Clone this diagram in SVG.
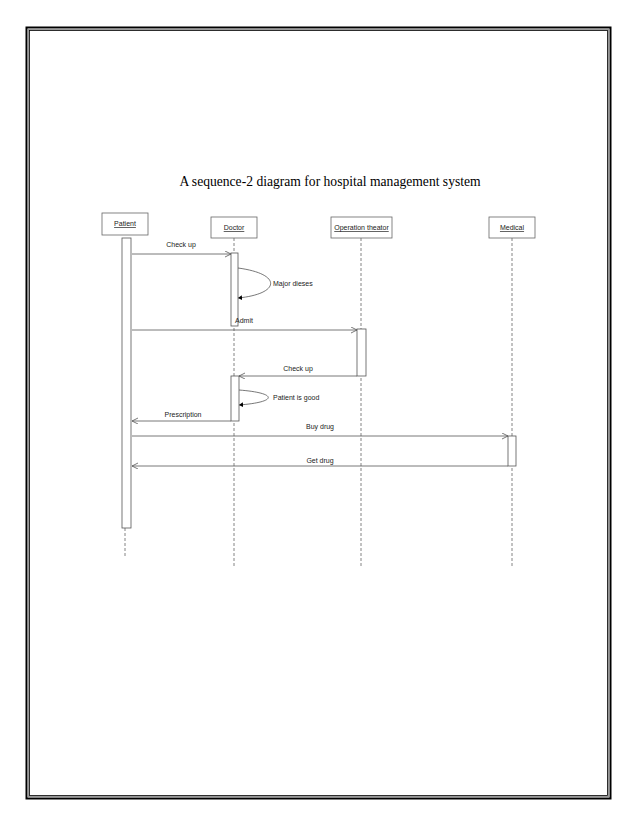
<svg xmlns="http://www.w3.org/2000/svg" width="638" height="826" viewBox="0 0 638 826">
<style>
.lbl{font-family:"Liberation Sans",Arial,sans-serif;font-size:7px;fill:#222}
.name{font-family:"Liberation Sans",Arial,sans-serif;font-size:7px;fill:#222;text-decoration:underline}
.box{fill:#fff;stroke:#666;stroke-width:0.8}
.act{fill:#fff;stroke:#555;stroke-width:0.8}
.life{stroke:#666;stroke-width:0.8;stroke-dasharray:3,2;fill:none}
.msg{stroke:#555;stroke-width:0.8;fill:none}
</style>
<defs>
<marker id="open" markerWidth="8" markerHeight="8" refX="6" refY="3" orient="auto" markerUnits="userSpaceOnUse">
<path d="M0,0 L6,3 L0,6" fill="none" stroke="#555" stroke-width="0.8"/>
</marker>
<marker id="fill" markerWidth="8" markerHeight="8" refX="4" refY="2.5" orient="auto" markerUnits="userSpaceOnUse">
<path d="M0,0 L4,2.5 L0,5 Z" fill="#000"/>
</marker>
</defs>
<rect x="0" y="0" width="638" height="826" fill="#fff"/>
<g id="page-border">
<rect x="26.5" y="27.5" width="584" height="771" fill="none" stroke="#000" stroke-width="2"/>
<rect x="28.5" y="29.5" width="580" height="767" fill="none" stroke="#999" stroke-width="1.5"/>
<rect x="29.5" y="30.5" width="578" height="765" fill="none" stroke="#000" stroke-width="0.8"/>
</g>
<text x="330" y="186" text-anchor="middle" font-family="Liberation Serif,'Times New Roman',serif" font-size="13.6" fill="#000">A sequence-2 diagram for hospital management system</text>
<g id="connectors">
<line class="life" x1="125" y1="528" x2="125" y2="558"/>
<line class="life" x1="234" y1="238" x2="234" y2="567"/>
<line class="life" x1="361" y1="238" x2="361" y2="567"/>
<line class="life" x1="512" y1="238" x2="512" y2="567"/>
<line class="msg" x1="132" y1="254" x2="231" y2="254" marker-end="url(#open)"/>
<path class="msg" d="M238,268 C283,274 280,294 238,298" marker-end="url(#fill)"/>
<line class="msg" x1="132" y1="330" x2="357" y2="330" marker-end="url(#open)"/>
<line class="msg" x1="357" y1="376" x2="239" y2="376" marker-end="url(#open)"/>
<path class="msg" d="M239,390 C278,393 278,402 239,405" marker-end="url(#fill)"/>
<line class="msg" x1="231" y1="421" x2="132" y2="421" marker-end="url(#open)"/>
<line class="msg" x1="132" y1="436" x2="508" y2="436" marker-end="url(#open)"/>
<line class="msg" x1="508" y1="466" x2="132" y2="466" marker-end="url(#open)"/>
</g>
<g id="patient">
<rect class="box" x="102" y="213" width="46" height="22"/>
<text class="name" x="125" y="226" text-anchor="middle">Patient</text>
<rect class="act" x="122" y="238" width="9" height="290"/>
</g>
<g id="doctor">
<rect class="box" x="211" y="217" width="46" height="21"/>
<text class="name" x="234" y="230" text-anchor="middle">Doctor</text>
<rect class="act" x="231" y="253" width="7" height="73"/>
<rect class="act" x="231" y="376" width="8" height="45"/>
</g>
<g id="operation-theator">
<rect class="box" x="331" y="217" width="61" height="21"/>
<text class="name" x="361.5" y="230" text-anchor="middle">Operation theator</text>
<rect class="act" x="357" y="329" width="9" height="47"/>
</g>
<g id="medical">
<rect class="box" x="489" y="217" width="46" height="21"/>
<text class="name" x="512" y="230" text-anchor="middle">Medical</text>
<rect class="act" x="508" y="436" width="8" height="30"/>
</g>
<g id="labels">
<text class="lbl" x="181" y="247" text-anchor="middle">Check up</text>
<text class="lbl" x="273" y="286">Major dieses</text>
<text class="lbl" x="235" y="323">Admit</text>
<text class="lbl" x="298" y="371" text-anchor="middle">Check up</text>
<text class="lbl" x="273" y="400">Patient is good</text>
<text class="lbl" x="183" y="417" text-anchor="middle">Prescription</text>
<text class="lbl" x="320" y="429" text-anchor="middle">Buy drug</text>
<text class="lbl" x="320" y="463" text-anchor="middle">Get drug</text>
</g>
</svg>
